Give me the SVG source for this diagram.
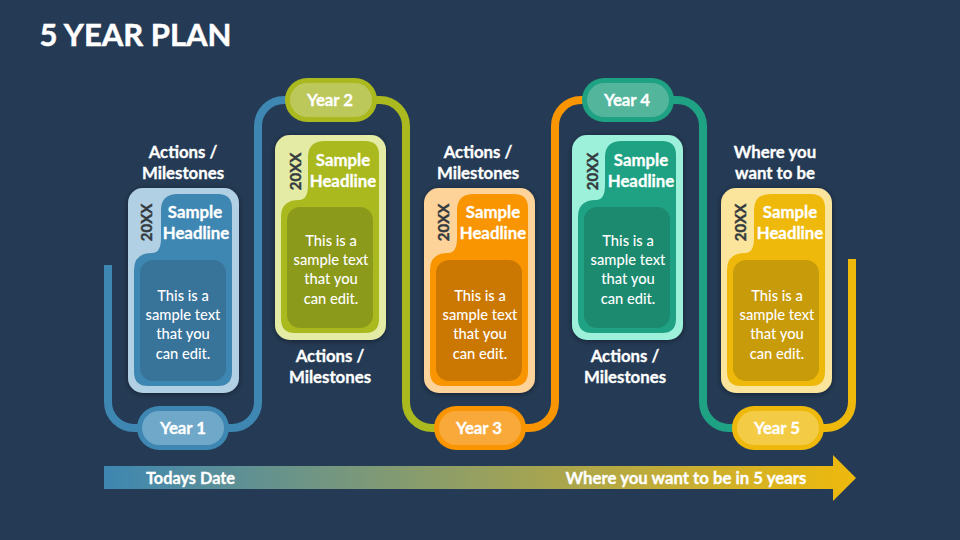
<svg xmlns="http://www.w3.org/2000/svg" width="960" height="540" viewBox="0 0 960 540">
<defs>
<linearGradient id="arrowGrad" x1="104" y1="0" x2="856" y2="0" gradientUnits="userSpaceOnUse"><stop offset="0" stop-color="#3e87b2"/><stop offset="1" stop-color="#efb90c"/></linearGradient>
<filter id="sh" x="-20%" y="-20%" width="140%" height="140%"><feDropShadow dx="0" dy="1" stdDeviation="3" flood-color="#000" flood-opacity=".45"/></filter>
</defs>
<style>
text{font-family:"Lato","Liberation Sans",sans-serif;text-anchor:middle}
.t,.h,.y{font-size:16.8px;font-weight:700;fill:#fff;stroke:#fff;stroke-width:.3px}
.d2{font-size:16.3px}
.b{font-size:14.7px;font-weight:500;fill:#fff}
.x{font-size:15px;font-weight:700;fill:#333b40;stroke:#333b40;stroke-width:.4px}
.c{fill:none;stroke-width:8}
.l{filter:url(#sh)}
.blue .l{fill:#b2d0e3}.blue .m{fill:#3e87b2}.blue .d{fill:#38739a}
.green .l{fill:#e3eba5}.green .m{fill:#a9b91e}.green .d{fill:#8c9a1c}
.orange .l{fill:#fdd39a}.orange .m{fill:#f99500}.orange .d{fill:#cb7803}
.teal .l{fill:#9df0d9}.teal .m{fill:#1ea283}.teal .d{fill:#1b8a6f}
.yellow .l{fill:#fbe49c}.yellow .m{fill:#efb90c}.yellow .d{fill:#c89b0a}
</style>
<rect width="960" height="540" fill="#253b55"/>
<text x="135.500" y="46" style="font-size:31px;font-weight:700;fill:#fff;stroke:#fff;stroke-width:.5px">5 YEAR PLAN</text>
<g id="connectors">
<path class="c" stroke="#3e87b2" d="M108 265V402A26 26 0 0 0 134 428H150"/>
<path class="c" stroke="#3e87b2" d="M220 428H232A26 26 0 0 0 258 402V126A26 26 0 0 1 284 100H295"/>
<path class="c" stroke="#a9b91e" d="M370 100H380A26 26 0 0 1 406 126V402A26 26 0 0 0 432 428H445"/>
<path class="c" stroke="#f99500" d="M515 428H529A26 26 0 0 0 555 402V126A26 26 0 0 1 581 100H595"/>
<path class="c" stroke="#1ea283" d="M665 100H677A26 26 0 0 1 703 126V402A26 26 0 0 0 729 428H745"/>
<path class="c" stroke="#efb90c" d="M815 428H826A26 26 0 0 0 852 402V259"/>
</g>
<g id="timeline"><path d="M104 466H833V455L856 478L833 501V489H104Z" fill="url(#arrowGrad)"/>
<text class="t d2" x="190.500" y="484">Todays Date</text><text class="t" x="686" y="484">Where you want to be in 5 years</text></g>
<g id="card1" class="blue" transform="translate(128 188)"><rect width="111" height="205" rx="15" class="l"/><path d="M33 22Q33 6 50 6H90Q104 6 104 20V184Q104 198 90 198H20Q6 198 6 184V82Q6 65 24 65Q33 65 33 50Z" class="m"/><rect x="12" y="72" width="86" height="121" rx="13" class="d"/><text class="x" transform="translate(24 34.500) rotate(-90)">20XX</text><text class="h" x="67" y="30">Sample</text><text class="h" x="68" y="51">Headline</text><text class="b" x="55" y="113">This is a</text><text class="b" x="55" y="132">sample text</text><text class="b" x="55" y="151">that you</text><text class="b" x="55" y="171">can edit.</text></g>
<g id="card2" class="green" transform="translate(275 135)"><rect width="111" height="205" rx="15" class="l"/><path d="M33 22Q33 6 50 6H90Q104 6 104 20V184Q104 198 90 198H20Q6 198 6 184V82Q6 65 24 65Q33 65 33 50Z" class="m"/><rect x="12" y="72" width="86" height="121" rx="13" class="d"/><text class="x" transform="translate(25.700 36.500) rotate(-90)">20XX</text><text class="h" x="68" y="31">Sample</text><text class="h" x="68" y="52">Headline</text><text class="b" x="56" y="111">This is a</text><text class="b" x="56" y="130">sample text</text><text class="b" x="56" y="149">that you</text><text class="b" x="56" y="169">can edit.</text></g>
<g id="card3" class="orange" transform="translate(424 188)"><rect width="111" height="205" rx="15" class="l"/><path d="M33 22Q33 6 50 6H90Q104 6 104 20V184Q104 198 90 198H20Q6 198 6 184V82Q6 65 24 65Q33 65 33 50Z" class="m"/><rect x="12" y="72" width="86" height="121" rx="13" class="d"/><text class="x" transform="translate(25 34.500) rotate(-90)">20XX</text><text class="h" x="69" y="30">Sample</text><text class="h" x="69" y="51">Headline</text><text class="b" x="56" y="113">This is a</text><text class="b" x="56" y="132">sample text</text><text class="b" x="56" y="151">that you</text><text class="b" x="56" y="171">can edit.</text></g>
<g id="card4" class="teal" transform="translate(572 135)"><rect width="111" height="205" rx="15" class="l"/><path d="M33 22Q33 6 50 6H90Q104 6 104 20V184Q104 198 90 198H20Q6 198 6 184V82Q6 65 24 65Q33 65 33 50Z" class="m"/><rect x="12" y="72" width="86" height="121" rx="13" class="d"/><text class="x" transform="translate(25.700 36.500) rotate(-90)">20XX</text><text class="h" x="69" y="31">Sample</text><text class="h" x="69" y="52">Headline</text><text class="b" x="56" y="111">This is a</text><text class="b" x="56" y="130">sample text</text><text class="b" x="56" y="149">that you</text><text class="b" x="56" y="169">can edit.</text></g>
<g id="card5" class="yellow" transform="translate(721 188)"><rect width="111" height="205" rx="15" class="l"/><path d="M33 22Q33 6 50 6H90Q104 6 104 20V184Q104 198 90 198H20Q6 198 6 184V82Q6 65 24 65Q33 65 33 50Z" class="m"/><rect x="12" y="72" width="86" height="121" rx="13" class="d"/><text class="x" transform="translate(25 34.500) rotate(-90)">20XX</text><text class="h" x="69" y="30">Sample</text><text class="h" x="69" y="51">Headline</text><text class="b" x="56" y="113">This is a</text><text class="b" x="56" y="132">sample text</text><text class="b" x="56" y="151">that you</text><text class="b" x="56" y="171">can edit.</text></g>
<g id="labels"><text class="t" x="183" y="158">Actions /</text><text class="t" x="183" y="179">Milestones</text>
<text class="t" x="330" y="362">Actions /</text><text class="t" x="330" y="383">Milestones</text>
<text class="t" x="478" y="158">Actions /</text><text class="t" x="478" y="179">Milestones</text>
<text class="t" x="625" y="362">Actions /</text><text class="t" x="625" y="383">Milestones</text>
<text class="t" x="775" y="158">Where you</text><text class="t" x="775" y="179">want to be</text></g>
<g id="year1"><rect x="137" y="406" width="92" height="44" rx="22" fill="#3e87b2"/><rect x="142" y="411" width="82" height="34" rx="17" fill="#6fa8c9"/><text class="y" x="183" y="434">Year 1</text></g>
<g id="year2"><rect x="285" y="78" width="92" height="44" rx="22" fill="#a9b91e"/><rect x="290" y="83" width="82" height="34" rx="17" fill="#bcc85a"/><text class="y" x="330" y="106">Year 2</text></g>
<g id="year3"><rect x="434" y="406" width="92" height="44" rx="22" fill="#f99500"/><rect x="439" y="411" width="82" height="34" rx="17" fill="#f9a83a"/><text class="y" x="479" y="434">Year 3</text></g>
<g id="year4"><rect x="582" y="78" width="92" height="44" rx="22" fill="#1ea283"/><rect x="587" y="83" width="82" height="34" rx="17" fill="#52b59c"/><text class="y" x="627" y="106">Year 4</text></g>
<g id="year5"><rect x="732" y="406" width="92" height="44" rx="22" fill="#efb90c"/><rect x="737" y="411" width="82" height="34" rx="17" fill="#f4cb45"/><text class="y" x="777" y="434">Year 5</text></g>
</svg>
